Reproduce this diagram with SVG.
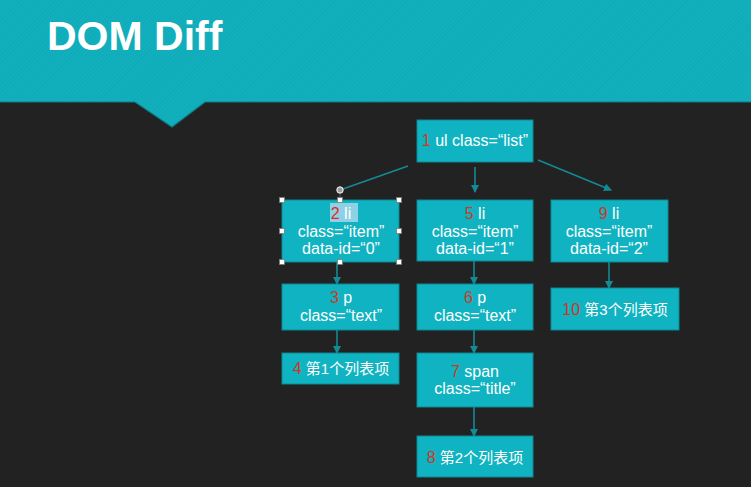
<svg xmlns="http://www.w3.org/2000/svg" width="751" height="487" viewBox="0 0 751 487">
<style>
.box{fill:#10b3c1;stroke:#0b8994;stroke-width:1}
.t{font-family:"Liberation Sans","Noto Sans CJK SC",sans-serif;font-size:16px;fill:#ffffff;text-anchor:middle}
.cjk{font-family:"Liberation Sans","Noto Sans CJK SC",sans-serif;font-size:15px}
.n{fill:#cc3a26;font-size:16px}
.c{stroke:#138a95;stroke-width:1.6;fill:none}
.h{fill:#ffffff;stroke:#7a7a7a;stroke-width:0.8}
</style>
<defs>
<pattern id="stripes" width="3" height="3" patternUnits="userSpaceOnUse" patternTransform="rotate(45)">
<rect width="3" height="3" fill="#12b0bd"/>
<rect width="1.2" height="3" fill="#0faab7"/>
</pattern>
<marker id="arr" markerWidth="8" markerHeight="8" refX="7" refY="4" orient="auto" markerUnits="userSpaceOnUse">
<path d="M0,0 L8,4 L0,8 Z" fill="#138a95"/>
</marker>
</defs>
<rect width="751" height="487" fill="#222222"/>
<path d="M0,0 H751 V102 H205 L172,127 L135,102 H0 Z" fill="url(#stripes)"/>
<path d="M0,102 H135 L172,127 L205,102 H751" fill="none" stroke="#0b7f88" stroke-width="1.2"/>
<text x="47" y="50" font-family="Liberation Sans, sans-serif" font-weight="bold" font-size="41" fill="#ffffff">DOM Diff</text>

<g id="connectors">
<line class="c" x1="408" y1="166" x2="340" y2="190"/>
<line class="c" x1="475" y1="167" x2="475" y2="192" marker-end="url(#arr)"/>
<line class="c" x1="538" y1="160" x2="611" y2="190" marker-end="url(#arr)"/>
<line class="c" x1="337" y1="262" x2="337" y2="284" marker-end="url(#arr)"/>
<line class="c" x1="337" y1="330" x2="337" y2="353" marker-end="url(#arr)"/>
<line class="c" x1="474" y1="261" x2="474" y2="284" marker-end="url(#arr)"/>
<line class="c" x1="474" y1="330" x2="474" y2="353" marker-end="url(#arr)"/>
<line class="c" x1="474" y1="407" x2="474" y2="436" marker-end="url(#arr)"/>
<line class="c" x1="609" y1="262" x2="609" y2="288" marker-end="url(#arr)"/>
</g>

<g id="n1">
<rect class="box" x="417" y="120" width="116" height="42"/>
<text class="t" x="475" y="146"><tspan class="n">1</tspan> ul class=“list”</text>
</g>

<g id="n2">
<rect class="box" x="282" y="200" width="117" height="62" stroke="#8a9a9c"/>
<rect x="330" y="203" width="28" height="19" fill="#a6d6ea" opacity="0.85"/>
<text class="t" x="341" y="219"><tspan fill="#e02a20">2</tspan> li</text>
<text class="t" x="341" y="237">class=“item”</text>
<text class="t" x="341" y="254">data-id=“0”</text>
</g>

<g id="selection">
<line x1="340" y1="190" x2="340" y2="200" stroke="#555555" stroke-width="1"/>
<circle cx="340" cy="190" r="3.2" fill="#9a9a9a" stroke="#ffffff" stroke-width="1"/>
<rect class="h" x="279.5" y="197.5" width="5" height="5"/>
<rect class="h" x="337.5" y="197.5" width="5" height="5"/>
<rect class="h" x="396.5" y="197.5" width="5" height="5"/>
<rect class="h" x="279.5" y="228.5" width="5" height="5"/>
<rect class="h" x="396.5" y="228.5" width="5" height="5"/>
<rect class="h" x="279.5" y="259.5" width="5" height="5"/>
<rect class="h" x="337.5" y="259.5" width="5" height="5"/>
<rect class="h" x="396.5" y="259.5" width="5" height="5"/>
</g>

<g id="n3">
<rect class="box" x="282" y="284" width="117" height="46"/>
<text class="t" x="341" y="303"><tspan class="n">3</tspan> p</text>
<text class="t" x="341" y="321">class=“text”</text>
</g>

<g id="n4">
<rect class="box" x="282" y="353" width="117" height="31"/>
<text class="t cjk" x="341" y="374"><tspan class="n">4</tspan> 第1个列表项</text>
</g>

<g id="n5">
<rect class="box" x="417" y="200" width="116" height="61"/>
<text class="t" x="475" y="219"><tspan class="n">5</tspan> li</text>
<text class="t" x="475" y="237">class=“item”</text>
<text class="t" x="475" y="254">data-id=“1”</text>
</g>

<g id="n6">
<rect class="box" x="417" y="284" width="116" height="46"/>
<text class="t" x="475" y="303"><tspan class="n">6</tspan> p</text>
<text class="t" x="475" y="321">class=“text”</text>
</g>

<g id="n7">
<rect class="box" x="417" y="353" width="116" height="54"/>
<text class="t" x="475" y="377"><tspan class="n">7</tspan> span</text>
<text class="t" x="475" y="394">class=“title”</text>
</g>

<g id="n8">
<rect class="box" x="417" y="436" width="116" height="41"/>
<text class="t cjk" x="475" y="463"><tspan class="n">8</tspan> 第2个列表项</text>
</g>

<g id="n9">
<rect class="box" x="551" y="200" width="117" height="62"/>
<text class="t" x="609" y="219"><tspan class="n">9</tspan> li</text>
<text class="t" x="609" y="237">class=“item”</text>
<text class="t" x="609" y="254">data-id=“2”</text>
</g>

<g id="n10">
<rect class="box" x="551" y="288" width="128" height="42"/>
<text class="t cjk" x="615" y="315"><tspan class="n">10</tspan> 第3个列表项</text>
</g>
</svg>
